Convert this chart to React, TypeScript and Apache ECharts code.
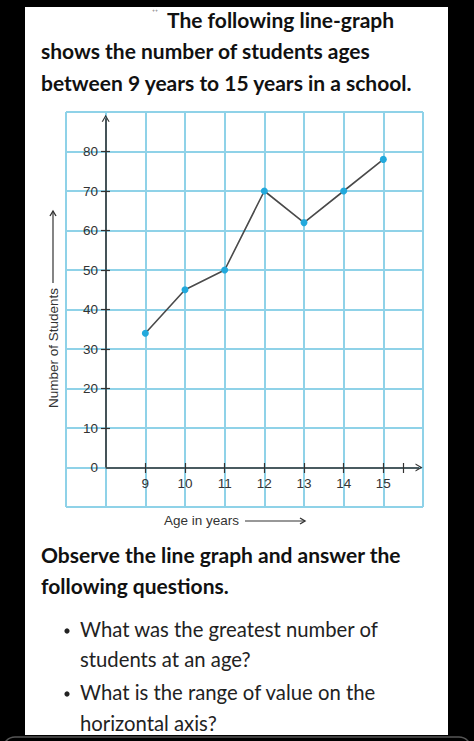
import React, { useEffect, useRef } from 'react';
import * as echarts from 'echarts';

const ages = [9, 10, 11, 12, 13, 14, 15];
const students = [34, 45, 50, 70, 62, 70, 78];
const yLabelValues = [0, 10, 20, 30, 40, 50, 60, 70, 80];
const yTickValues = [10, 20, 30, 40, 50, 60, 70, 80];
const xLabelValues = [9, 10, 11, 12, 13, 14, 15];
const xTickValues = [9, 10, 11, 12, 13, 14, 15, 15.5];
const titleLines = [
  'The following line-graph',
  'shows the number of students ages',
  'between 9 years to 15 years in a school.',
];
const promptLines = ['Observe the line graph and answer the', 'following questions.'];
const bulletLines = [
  ['What was the greatest number of', 'students at an age?'],
  ['What is the range of value on the', 'horizontal axis?'],
];
const yAxisName = 'Number of Students';
const xAxisName = 'Age in years';

const GRID = '#8fd2e8';
const INK = '#333';
const ARROW = 'path://M0,10 L5,0 L10,10 L8.4,10 L5,3.2 L1.6,10 Z';
const LABEL_FONT = '"Liberation Sans", Arial, sans-serif';

function txt(text: string, x: number, y: number, font: string, fill: string, extra: any = {}) {
  return {
    type: 'text',
    x,
    y,
    z: 10,
    silent: true,
    style: {
      text,
      font,
      fill,
      align: 'left',
      textAlign: 'left',
      verticalAlign: 'middle',
      textVerticalAlign: 'middle',
      ...extra,
    },
  };
}

export default function App() {
  const ref = useRef<HTMLDivElement>(null);
  useEffect(() => {
    if (!ref.current) return;
    const chart = echarts.init(ref.current, null, { renderer: 'svg' });
    const bold = 'bold 21px Lato';
    const reg = '20.3px Lato';
    const graphic: any[] = [
      { type: 'rect', z: -5, silent: true, shape: { x: 25, y: 7, width: 423, height: 728 }, style: { fill: '#fff' } },
      { type: 'rect', z: -4, silent: true, shape: { x: 3, y: 737, width: 468, height: 30, r: 12 }, style: { fill: '#000', stroke: '#555', lineWidth: 1.5 } },
      txt('\u207A\u207A', 152, 13, '9px Lato', '#888'),
      txt(titleLines[0], 167, 19, bold, '#111'),
      txt(titleLines[1], 41, 50, bold, '#111'),
      txt(titleLines[2], 41, 82, bold, '#111'),
      txt(promptLines[0], 41, 554, bold, '#111'),
      txt(promptLines[1], 41, 585, bold, '#111'),
      { type: 'circle', z: 10, silent: true, shape: { cx: 67, cy: 631, r: 2.6 }, style: { fill: '#222' } },
      { type: 'circle', z: 10, silent: true, shape: { cx: 67, cy: 694, r: 2.6 }, style: { fill: '#222' } },
      txt(bulletLines[0][0], 80, 629, reg, '#222'),
      txt(bulletLines[0][1], 80, 659, reg, '#222'),
      txt(bulletLines[1][0], 80, 692, reg, '#222'),
      txt(bulletLines[1][1], 80, 723, reg, '#222'),
      {
        type: 'text',
        x: 53,
        y: 348,
        rotation: Math.PI / 2,
        z: 10,
        silent: true,
        style: {
          text: yAxisName,
          font: '13.5px ' + LABEL_FONT,
          fill: INK,
          align: 'center',
          textAlign: 'center',
          verticalAlign: 'middle',
          textVerticalAlign: 'middle',
        },
      },
      { type: 'line', z: 10, silent: true, shape: { x1: 53, y1: 283, x2: 53, y2: 211 }, style: { stroke: INK, lineWidth: 1.2 } },
      { type: 'polyline', z: 10, silent: true, shape: { points: [[50, 216], [53, 211], [56, 216]] }, style: { stroke: INK, lineWidth: 1.4, fill: 'none' } },
      txt(xAxisName, 164, 520, '13.5px ' + LABEL_FONT, INK),
      { type: 'line', z: 10, silent: true, shape: { x1: 245, y1: 521, x2: 305, y2: 521 }, style: { stroke: INK, lineWidth: 1.2 } },
      { type: 'polyline', z: 10, silent: true, shape: { points: [[300, 518], [305, 521], [300, 524]] }, style: { stroke: INK, lineWidth: 1.4, fill: 'none' } },
    ];

    const gridAxisX = {
      type: 'value',
      min: 7,
      max: 16,
      interval: 1,
      position: 'top',
      axisLine: { show: false, onZero: false },
      axisTick: { show: false },
      axisLabel: { show: false },
      splitLine: { show: true, showMinLine: true, showMaxLine: true, lineStyle: { color: GRID, width: 2 } },
    };
    const gridAxisY = {
      type: 'value',
      min: -10,
      max: 90,
      interval: 10,
      position: 'right',
      axisLine: { show: false, onZero: false },
      axisTick: { show: false },
      axisLabel: { show: false },
      splitLine: { show: true, showMinLine: true, showMaxLine: true, lineStyle: { color: GRID, width: 2 } },
    };

    chart.setOption({
      animation: false,
      backgroundColor: '#000',
      grid: { left: 66, right: 51, top: 112, bottom: 234, containLabel: false },
      xAxis: [
        {
          type: 'value',
          min: 7,
          max: 16,
          interval: 1,
          position: 'bottom',
          offset: -44,
          axisLine: { show: false, onZero: false },
          axisTick: { show: true, length: 10, customValues: xTickValues, lineStyle: { color: INK, width: 1.2 } },
          axisLabel: {
            customValues: xLabelValues,
            margin: 13,
            color: INK,
            fontSize: 13.5,
            fontFamily: LABEL_FONT,
            formatter: (v: number) => (xLabelValues.indexOf(v) >= 0 ? String(v) : ''),
          },
          splitLine: { show: false },
        },
        gridAxisX,
      ],
      yAxis: [
        {
          type: 'value',
          min: -10,
          max: 90,
          interval: 10,
          position: 'left',
          offset: -44,
          axisLine: { show: false, onZero: false },
          axisTick: { show: true, length: 9, customValues: yTickValues, lineStyle: { color: INK, width: 1.2 } },
          axisLabel: {
            customValues: yLabelValues,
            margin: 12,
            color: INK,
            fontSize: 13.5,
            fontFamily: LABEL_FONT,
            formatter: (v: number) => (yLabelValues.indexOf(v) >= 0 ? String(v) : ''),
          },
          splitLine: { show: false },
        },
        gridAxisY,
      ],
      graphic,
      series: [
        {
          type: 'line',
          xAxisIndex: 0,
          yAxisIndex: 0,
          data: ages.map((a, i) => [a, students[i]]),
          symbol: 'circle',
          symbolSize: 7,
          showSymbol: true,
          z: 5,
          lineStyle: { color: '#4a4a4a', width: 1.6 },
          itemStyle: { color: '#22a9dc' },
          emphasis: { disabled: true },
          markLine: {
            silent: true,
            animation: false,
            symbol: ['none', ARROW],
            symbolSize: [8, 7],
            label: { show: false },
            emphasis: { disabled: true },
            lineStyle: { color: INK, width: 1.6, type: 'solid' },
            itemStyle: { color: INK },
            data: [
              [{ coord: [8, 0] }, { coord: [8, 88.4] }],
              [{ coord: [8, 0] }, { coord: [15.9, 0] }],
            ],
          },
        },
      ],
    });
    return () => chart.dispose();
  }, []);
  return <div ref={ref} style={{ position: 'absolute', left: 0, top: 0, width: 474, height: 741 }} />;
}
